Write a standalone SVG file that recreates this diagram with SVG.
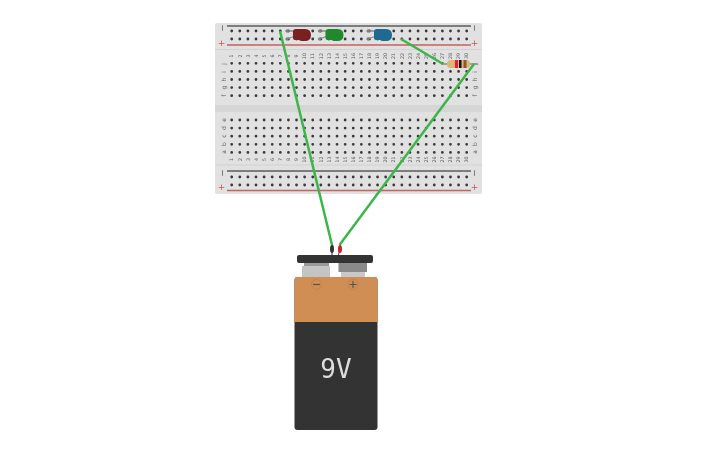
<svg xmlns="http://www.w3.org/2000/svg" width="725" height="453" viewBox="0 0 725 453">
<style>
.holes{fill:none;stroke:#3a3a3a;stroke-width:2.8;stroke-linecap:round;stroke-dasharray:0 8.103}
.lab{font-family:"DejaVu Sans",sans-serif;font-size:4.800px;fill:#555;text-anchor:middle;opacity:.95}
.let{font-family:"DejaVu Sans",sans-serif;font-size:6px;fill:#555;text-anchor:middle;opacity:.95}
.sym{font-family:"DejaVu Sans",sans-serif;font-size:9px;text-anchor:middle;opacity:.98}
.leg{fill:none;stroke:#8c8c8c;stroke-width:1.3}
.wire{fill:none;stroke:#3db54a;stroke-width:2.500}
.tip{fill:#888;stroke:#777;stroke-width:.6}
</style>
<defs>
<path id="holeRow" class="holes" d="M231.7 0H467"/>
<g id="legs"><path class="leg" d="M-6 2H2M-6 10L2 7"/><circle class="tip" cx="-6" cy="2" r="1.300"/><circle class="tip" cx="-6" cy="10" r="1.300"/></g>
<path id="ledBody" d="M0 3Q0 0 3 0H12Q18 0 18 6Q18 12 12 12H8L6 11H3Q0 11 0 9Z"/>
</defs>
<rect width="725" height="453" fill="#fff"/>
<g id="breadboard">
<rect x="215" y="23" width="267" height="171" rx="2" fill="#e1e1e1"/>
<rect x="215" y="105" width="267" height="7" fill="#d6d6d6"/>
<path d="M215 49.500H482M215 165H482" stroke="#d2d2d2" stroke-width="1.200"/>
<path d="M227 26H471M227 171H471" stroke="#5c5c5c" stroke-width="1.500"/>
<path d="M227 45H471M227 190.500H471" stroke="#c4635f" stroke-width="1.500"/>
<use href="#holeRow" y="31"/><use href="#holeRow" y="39"/>
<use href="#holeRow" y="63.300"/><use href="#holeRow" y="71.400"/><use href="#holeRow" y="79.500"/><use href="#holeRow" y="87.600"/><use href="#holeRow" y="95.700"/>
<use href="#holeRow" y="120"/><use href="#holeRow" y="128.100"/><use href="#holeRow" y="136.200"/><use href="#holeRow" y="144.300"/><use href="#holeRow" y="152.400"/>
<use href="#holeRow" y="177"/><use href="#holeRow" y="185"/>
<g class="sym">
<text transform="translate(224.500,28) rotate(-90)" fill="#555">−</text><text x="221.500" y="46.200" fill="#d0504c">+</text>
<text transform="translate(477,28) rotate(-90)" fill="#555">−</text><text x="474.500" y="46.200" fill="#d0504c">+</text>
<text transform="translate(224.500,173) rotate(-90)" fill="#555">−</text><text x="221.500" y="190" fill="#d0504c">+</text>
<text transform="translate(477,173) rotate(-90)" fill="#555">−</text><text x="474.500" y="190" fill="#d0504c">+</text>
</g>
<g class="let" id="row-letters">
<text transform="translate(225.500,64) rotate(-90)">j</text><text transform="translate(225.500,72) rotate(-90)">i</text><text transform="translate(225.500,79.700) rotate(-90)">h</text><text transform="translate(225.500,87.700) rotate(-90)">g</text><text transform="translate(225.500,95.700) rotate(-90)">f</text>
<text transform="translate(225.500,120) rotate(-90)">e</text><text transform="translate(225.500,128) rotate(-90)">d</text><text transform="translate(225.500,136) rotate(-90)">c</text><text transform="translate(225.500,144) rotate(-90)">b</text><text transform="translate(225.500,152) rotate(-90)">a</text>
<text transform="translate(476.500,64) rotate(-90)">j</text><text transform="translate(476.500,72) rotate(-90)">i</text><text transform="translate(476.500,79.700) rotate(-90)">h</text><text transform="translate(476.500,87.700) rotate(-90)">g</text><text transform="translate(476.500,95.700) rotate(-90)">f</text>
<text transform="translate(476.500,120) rotate(-90)">e</text><text transform="translate(476.500,128) rotate(-90)">d</text><text transform="translate(476.500,136) rotate(-90)">c</text><text transform="translate(476.500,144) rotate(-90)">b</text><text transform="translate(476.500,152) rotate(-90)">a</text>
</g>
<g class="lab" id="column-numbers">
<text transform="translate(233.400,56) rotate(-90)">1</text><text transform="translate(241.500,56) rotate(-90)">2</text><text transform="translate(249.600,56) rotate(-90)">3</text><text transform="translate(257.700,56) rotate(-90)">4</text><text transform="translate(265.800,56) rotate(-90)">5</text><text transform="translate(273.900,56) rotate(-90)">6</text><text transform="translate(282,56) rotate(-90)">7</text><text transform="translate(290.100,56) rotate(-90)">8</text><text transform="translate(298.200,56) rotate(-90)">9</text><text transform="translate(306.300,56) rotate(-90)">10</text>
<text transform="translate(314.400,56) rotate(-90)">11</text><text transform="translate(322.500,56) rotate(-90)">12</text><text transform="translate(330.600,56) rotate(-90)">13</text><text transform="translate(338.700,56) rotate(-90)">14</text><text transform="translate(346.800,56) rotate(-90)">15</text><text transform="translate(354.900,56) rotate(-90)">16</text><text transform="translate(363,56) rotate(-90)">17</text><text transform="translate(371.100,56) rotate(-90)">18</text><text transform="translate(379.200,56) rotate(-90)">19</text><text transform="translate(387.300,56) rotate(-90)">20</text>
<text transform="translate(395.400,56) rotate(-90)">21</text><text transform="translate(403.500,56) rotate(-90)">22</text><text transform="translate(411.600,56) rotate(-90)">23</text><text transform="translate(419.700,56) rotate(-90)">24</text><text transform="translate(427.800,56) rotate(-90)">25</text><text transform="translate(435.900,56) rotate(-90)">26</text><text transform="translate(444,56) rotate(-90)">27</text><text transform="translate(452.100,56) rotate(-90)">28</text><text transform="translate(460.200,56) rotate(-90)">29</text><text transform="translate(468.300,56) rotate(-90)">30</text>
<text transform="translate(233.400,159.500) rotate(-90)">1</text><text transform="translate(241.500,159.500) rotate(-90)">2</text><text transform="translate(249.600,159.500) rotate(-90)">3</text><text transform="translate(257.700,159.500) rotate(-90)">4</text><text transform="translate(265.800,159.500) rotate(-90)">5</text><text transform="translate(273.900,159.500) rotate(-90)">6</text><text transform="translate(282,159.500) rotate(-90)">7</text><text transform="translate(290.100,159.500) rotate(-90)">8</text><text transform="translate(298.200,159.500) rotate(-90)">9</text><text transform="translate(306.300,159.500) rotate(-90)">10</text>
<text transform="translate(314.400,159.500) rotate(-90)">11</text><text transform="translate(322.500,159.500) rotate(-90)">12</text><text transform="translate(330.600,159.500) rotate(-90)">13</text><text transform="translate(338.700,159.500) rotate(-90)">14</text><text transform="translate(346.800,159.500) rotate(-90)">15</text><text transform="translate(354.900,159.500) rotate(-90)">16</text><text transform="translate(363,159.500) rotate(-90)">17</text><text transform="translate(371.100,159.500) rotate(-90)">18</text><text transform="translate(379.200,159.500) rotate(-90)">19</text><text transform="translate(387.300,159.500) rotate(-90)">20</text>
<text transform="translate(395.400,159.500) rotate(-90)">21</text><text transform="translate(403.500,159.500) rotate(-90)">22</text><text transform="translate(411.600,159.500) rotate(-90)">23</text><text transform="translate(419.700,159.500) rotate(-90)">24</text><text transform="translate(427.800,159.500) rotate(-90)">25</text><text transform="translate(435.900,159.500) rotate(-90)">26</text><text transform="translate(444,159.500) rotate(-90)">27</text><text transform="translate(452.100,159.500) rotate(-90)">28</text><text transform="translate(460.200,159.500) rotate(-90)">29</text><text transform="translate(468.300,159.500) rotate(-90)">30</text>
</g>
</g>
<g id="led-red" transform="translate(293,29)"><use href="#legs"/><use href="#ledBody" fill="#7a1f22"/></g>
<g id="led-green" transform="translate(325.500,29)"><use href="#legs"/><use href="#ledBody" fill="#1e8a2c"/></g>
<g id="led-blue" transform="translate(374,29)"><use href="#legs"/><use href="#ledBody" fill="#1f6a90"/></g>
<g id="resistor">
<path d="M442 64H478" stroke="#8c8c8c" stroke-width="1.400"/>
<rect x="447" y="60" width="23" height="8" rx="3.500" fill="#dcb878"/>
<rect x="455" y="60" width="3" height="8" fill="#ee1c24"/>
<rect x="459" y="60" width="2.500" height="8" fill="#111"/>
<rect x="463.500" y="60" width="3" height="8" fill="#8a5a2b"/>
</g>
<g id="battery">
<rect x="304" y="263" width="25" height="4" fill="#999"/>
<rect x="302" y="266" width="28" height="12" fill="#c4c4c4"/>
<rect x="341" y="271" width="24" height="7" fill="#c9c9c9"/>
<rect x="338.500" y="263" width="28.500" height="9" fill="#8a8a8a"/>
<rect x="297" y="255" width="76" height="8" rx="2" fill="#333"/>
<rect x="294.500" y="277" width="83" height="153" rx="3" fill="#333"/>
<path d="M294.500 322V280Q294.500 277 297.500 277H374.500Q377.500 277 377.500 280V322Z" fill="#d18e54"/>
<circle cx="316.500" cy="284.500" r="5" fill="none" stroke="#bd7f4a" stroke-width=".8"/>
<path d="M313 284.500H320" stroke="#555" stroke-width="1.200"/>
<circle cx="353" cy="284.500" r="5" fill="none" stroke="#bd7f4a" stroke-width=".8"/>
<path d="M349.500 284.500H356.500M353 281V288" stroke="#555" stroke-width="1.200"/>
<text x="336" y="378" font-family="'DejaVu Sans Mono',monospace" font-size="26" fill="#dedede" text-anchor="middle">9V</text>
</g>
<g id="connectors">
<path class="wire" d="M280 31L332.500 247"/>
<path class="wire" d="M401 39L443 64"/>
<path class="wire" d="M474 64L339.500 245"/>
<path d="M332 249V255" stroke="#222" stroke-width="1"/>
<path d="M339.500 249L338.500 255" stroke="#c02026" stroke-width="1"/>
<ellipse cx="332" cy="249" rx="2" ry="4" fill="#333"/>
<ellipse cx="340" cy="249" rx="2" ry="4" fill="#c4232b"/>
</g>
</svg>
